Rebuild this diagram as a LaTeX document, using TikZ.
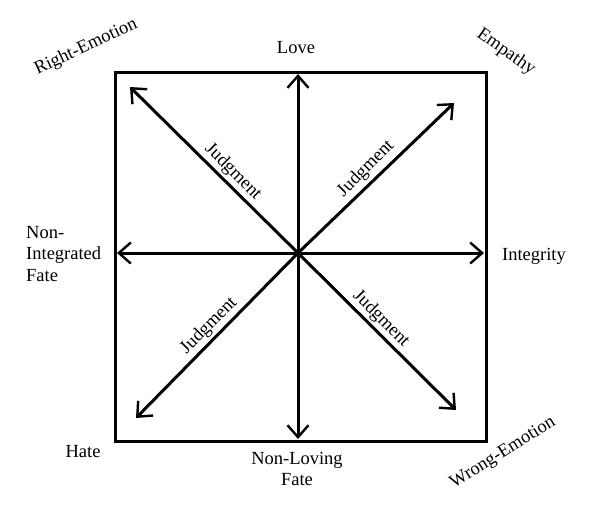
\documentclass[tikz,border=0pt]{standalone}
\usepackage{fontspec}
\setmainfont{Liberation Serif}
\usetikzlibrary{arrows.meta}
\begin{document}
\begin{tikzpicture}[x=1pt,y=-1pt,
  lbl/.style={font=\fontsize{18.5}{21.5}\selectfont, inner sep=0pt},
  axis/.style={line width=3pt, -{Straight Barb[length=12pt,width=21pt,line width=2.4pt]}},
  frame/.style={line width=3pt}]
\useasboundingbox (0,0) rectangle (594,515);
\node[draw, frame, minimum width=371pt, minimum height=369pt, inner sep=0pt] (sq) at (300.5,256.5) {};
\coordinate (c) at (298,253);
\coordinate (up) at (298,74);
\coordinate (dn) at (298,439);
\coordinate (lt) at (117,253);
\coordinate (rt) at (484,253);
\coordinate (ul) at (130,87);
\coordinate (ur) at (454,103);
\coordinate (ll) at (136,418);
\coordinate (lr) at (456,410);
\draw[axis] (c) -- (up);
\draw[axis] (c) -- (dn);
\draw[axis] (c) -- (lt);
\draw[axis] (c) -- (rt);
\draw[axis] (c) -- (ul);
\draw[axis] (c) -- (ur);
\draw[axis] (c) -- (ll);
\draw[axis] (c) -- (lr);
\node[lbl] (love) at (296,48) {Love};
\node[lbl] (integ) at (534,256) {Integrity};
\node[lbl, align=left, anchor=west] (nif) at (26,254) {Non-\\Integrated\\Fate};
\node[lbl] (hate) at (83,452) {Hate};
\node[lbl, align=center] (nlf) at (297,469) {Non-Loving\\Fate};
\node[lbl, rotate=25] (re) at (86,47) {Right-Emotion};
\node[lbl, rotate=-35] (emp) at (506,52) {Empathy};
\node[lbl, rotate=32] (we) at (503,453) {Wrong-Emotion};
\node[lbl, rotate=-45] (j1) at (233,172) {Judgment};
\node[lbl, rotate=45] (j2) at (366,169) {Judgment};
\node[lbl, rotate=45] (j3) at (209,326) {Judgment};
\node[lbl, rotate=-45] (j4) at (381,319) {Judgment};
\end{tikzpicture}
\end{document}
